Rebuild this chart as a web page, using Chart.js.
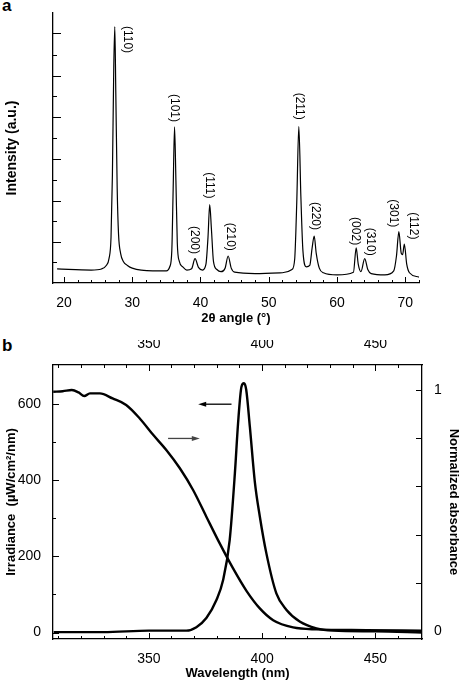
<!DOCTYPE html>
<html><head><meta charset="utf-8">
<script src="https://cdn.jsdelivr.net/npm/chart.js@4.4.1/dist/chart.umd.min.js"></script>
<style>
body{margin:0;background:#fff;width:465px;height:685px;position:relative;overflow:hidden;font-family:"Liberation Sans",Arial,sans-serif}
.c{position:absolute;left:0}
.lab{position:absolute;font-weight:bold;font-size:17px}
</style></head><body>
<div class="lab" style="left:2px;top:-4px">a</div>
<div class="lab" style="left:2px;top:336px">b</div>
<div class="c" style="top:0;width:465px;height:330px"><canvas id="c1"></canvas></div>
<div class="c" style="top:340px;width:465px;height:345px"><canvas id="c2"></canvas></div>
<script>
// ---- Panel a: XRD ----
const xrdAngle = [19,24,25.5,26.2,26.6,26.9,27.1,27.3,27.45,27.6,27.8,28.0,28.3,28.7,29.3,30,33,35,35.5,35.8,36.0,36.2,36.4,36.6,36.9,37.4,38,38.7,39.2,39.7,40.3,40.8,41.1,41.35,41.6,41.9,42.4,43,43.6,44.05,44.5,45,48,52,53.4,53.8,54.1,54.4,54.7,55.0,55.5,56.0,56.35,56.65,56.95,57.4,58,60,62.4,62.8,63.1,63.5,64.05,64.5,65,67,68.3,68.7,69.05,69.4,69.6,69.85,70.2,70.6,72];
const xrdIntensity = [5.2,4.8,5.2,6.5,9,17,40,80,95,70,35,18,11,8,6.5,5.5,4.5,4.5,6,12,35,57.8,38,15,8,6,4.8,5.3,9,5.8,4.8,7,17,29,20,8,5,4.2,5.5,10,5.5,4,3.5,3.8,5,9,30,58,32,12,6,6.5,13,17.4,11,5.5,3.8,3,4,13,7,4.2,9,5,3.5,3,4.5,10,19,11,10.5,14.4,7,3.8,2.2];
const hklLabels = ["(110)","(101)","(200)","(111)","(210)","(211)","(220)","(002)","(310)","(301)","(112)"];
const hklX = [29.3,36.1,39.1,41.3,44.4,54.4,56.8,62.7,64.8,68.3,71.2];
const hklY = [95.2,70,21.1,41,22.3,70.5,30,24.4,20.5,31,26.2];
const xrdXMajor = [20,30,40,50,60,70];
const xrdXMinor = [22,24,26,28,32,34,36,38,42,44,46,48,52,54,56,58,62,64,66,68,72];
const xrdYMajor = [15.2,30.4,45.9,61.5,76.7,92.6];
const xrdYMinor = [7.6,22.8,38.2,53.7,69.1,84.6];

// ---- Panel b: spectra ----
const irrWl = [308,330,350,366.6,371,375.4,379.9,382.8,385.7,388,389.4,390.9,392,393,394.6,396.8,399,401.9,406.3,410.7,416.6,424,431.3,450,471];
const irrVal = [1,1,5,5,14,38,86,138,243,419,550,646,655,638,541,396,305,208,103,60,29,11,5,3,0];
const absWl = [307.8,312,316,319,321.5,324,328.4,334,340,346,352,357.8,363.7,369.6,375.4,381.3,387.2,393.1,399,404.9,413.7,424,446,471];
const absVal = [0.993,0.995,1.0,0.99,0.975,0.986,0.986,0.965,0.938,0.882,0.813,0.75,0.675,0.584,0.474,0.363,0.259,0.166,0.093,0.044,0.014,0.006,0.003,0];
const wlMajor = [350,400,450];
const wlMinor = [310,320,330,340,360,370,380,390,410,420,430,440,460,470];
const irrMajor = [0,200,400,600];
const irrMinor = [100,300,500];
const absTicks = [0,0.2,0.4,0.6,0.8,1];

const FONT = '"Liberation Sans", Arial, sans-serif';
Chart.defaults.font.family = FONT;
Chart.defaults.color = '#000';

function fixSize(px){return function(s){ if(s.isHorizontal()) s.height=px; else s.width=px; };}

const inTicks = {
  id:'inTicks',
  afterDraw(chart, args, opts){
    const ctx = chart.ctx; ctx.save(); ctx.strokeStyle='#000'; ctx.lineWidth=1;
    for(const t of opts.list){
      const s = chart.scales[t.scale];
      for(const v of t.values){
        const len = t.len;
        ctx.beginPath();
        if(s.isHorizontal()){
          const x = Math.round(s.getPixelForValue(v))+0.5;
          const y = t.top ? chart.chartArea.top : chart.chartArea.bottom;
          ctx.moveTo(x,y); ctx.lineTo(x, t.top? y+len : y-len);
        } else {
          const y = Math.round(s.getPixelForValue(v))+0.5;
          const x = t.right ? chart.chartArea.right : chart.chartArea.left;
          ctx.moveTo(x,y); ctx.lineTo(t.right? x-len : x+len, y);
        }
        ctx.stroke();
      }
    }
    ctx.restore();
  }
};

const hklPlugin = {
  id:'hkl',
  afterDatasetsDraw(chart){
    const ctx=chart.ctx, sx=chart.scales.x, sy=chart.scales.y;
    ctx.save(); ctx.font='12px '+FONT; ctx.fillStyle='#000';
    ctx.textAlign='left'; ctx.textBaseline='middle';
    hklLabels.forEach((l,i)=>{
      ctx.save();
      ctx.translate(sx.getPixelForValue(hklX[i]), sy.getPixelForValue(hklY[i]));
      ctx.rotate(Math.PI/2); ctx.fillText(l,0,0); ctx.restore();
    });
    ctx.restore();
  }
};

new Chart(document.getElementById('c1'), {
  type:'line',
  data:{datasets:[{data:xrdAngle.map((a,i)=>({x:a,y:xrdIntensity[i]})),borderColor:'#000',borderWidth:1.2,pointRadius:0,cubicInterpolationMode:'monotone',fill:false}]},
  options:{
    responsive:true, maintainAspectRatio:false, animation:false,
    layout:{padding:{top:13,right:46,left:0,bottom:0}},
    plugins:{legend:{display:false},tooltip:{enabled:false},
      inTicks:{list:[
        {scale:'x',values:xrdXMajor,len:6},{scale:'x',values:xrdXMinor,len:3},
        {scale:'y',values:xrdYMajor,len:8},{scale:'y',values:xrdYMinor,len:4}]}},
    scales:{
      x:{type:'linear',min:18.4,max:72,afterFit:fixSize(47),
        grid:{display:false},border:{color:'#000',width:1.3},
        afterBuildTicks:s=>{s.ticks=xrdXMajor.map(v=>({value:v}));},
        ticks:{font:{size:14},padding:4,maxRotation:0},
        title:{display:true,text:'2θ angle (°)',font:{size:13,weight:'bold'},padding:{top:0}}},
      y:{min:0,max:100,afterFit:fixSize(53),
        grid:{display:false},border:{color:'#000',width:1.3},
        ticks:{display:false},
        title:{display:true,text:'Intensity (a.u.)',font:{size:14,weight:'bold'},padding:{bottom:4}}}
    }
  },
  plugins:[inTicks,hklPlugin]
});

const arrowPlugin = {
  id:'arrows',
  afterDatasetsDraw(chart){
    const ctx=chart.ctx, sx=chart.scales.x, sy=chart.scales.y;
    const arr=[[386.5,371.8,600,'#000'],[358.5,372.5,510,'#444']];
    ctx.save(); ctx.lineWidth=1.3;
    for(const [a,b,v,c] of arr){
      const x1=sx.getPixelForValue(a), x2=sx.getPixelForValue(b), y=sy.getPixelForValue(v);
      const d=Math.sign(x2-x1);
      ctx.strokeStyle=c; ctx.fillStyle=c;
      ctx.beginPath(); ctx.moveTo(x1,y); ctx.lineTo(x2-d*4,y); ctx.stroke();
      ctx.beginPath(); ctx.moveTo(x2,y); ctx.lineTo(x2-d*8,y-2.5); ctx.lineTo(x2-d*8,y+2.5); ctx.closePath(); ctx.fill();
    }
    ctx.restore();
  }
};

new Chart(document.getElementById('c2'), {
  type:'line',
  data:{datasets:[
    {data:irrWl.map((w,i)=>({x:w,y:irrVal[i]})),yAxisID:'y',borderColor:'#000',borderWidth:2.4,pointRadius:0,cubicInterpolationMode:'monotone',fill:false},
    {data:absWl.map((w,i)=>({x:w,y:absVal[i]})),yAxisID:'y1',borderColor:'#000',borderWidth:2.4,pointRadius:0,cubicInterpolationMode:'monotone',fill:false}
  ]},
  options:{
    responsive:true, maintainAspectRatio:false, animation:false,
    layout:{padding:0},
    plugins:{legend:{display:false},tooltip:{enabled:false},
      inTicks:{list:[
        {scale:'x',values:wlMajor,len:6},{scale:'x',values:wlMinor,len:3},
        {scale:'x',values:wlMajor,len:6,top:true},{scale:'x',values:wlMinor,len:3,top:true},
        {scale:'y',values:irrMajor,len:6},{scale:'y',values:irrMinor,len:3},
        {scale:'y1',values:absTicks,len:6,right:true}]}},
    scales:{
      x:{type:'linear',min:307.7,max:470.6,position:'bottom',afterFit:fixSize(46),
        grid:{display:false},border:{color:'#000',width:1.3},
        afterBuildTicks:s=>{s.ticks=wlMajor.map(v=>({value:v}));},
        ticks:{font:{size:14},padding:4,maxRotation:0},
        title:{display:true,text:'Wavelength (nm)',font:{size:13,weight:'bold'},padding:{top:2}}},
      x2:{type:'linear',min:307.7,max:470.6,position:'top',afterFit:fixSize(25),
        grid:{display:false},border:{color:'#000',width:1.3},
        afterBuildTicks:s=>{s.ticks=wlMajor.map(v=>({value:v}));},
        ticks:{font:{size:14},padding:4,maxRotation:0}},
      y:{min:-17,max:703,position:'left',afterFit:fixSize(53),
        grid:{display:false},border:{color:'#000',width:1.3},
        afterBuildTicks:s=>{s.ticks=irrMajor.map(v=>({value:v}));},
        ticks:{font:{size:14},padding:4},
        title:{display:true,text:'Irradiance  (µW/cm²/nm)',font:{size:13,weight:'bold'},padding:{bottom:2}}},
      y1:{min:-0.034,max:1.104,position:'right',afterFit:fixSize(43),
        grid:{display:false},border:{color:'#000',width:1.3},
        afterBuildTicks:s=>{s.ticks=[0,1].map(v=>({value:v}));},
        ticks:{font:{size:14},padding:4},
        title:{display:true,text:'Normalized absorbance',font:{size:13,weight:'bold'},padding:{top:4}}}
    }
  },
  plugins:[inTicks,arrowPlugin]
});
</script></body></html>
